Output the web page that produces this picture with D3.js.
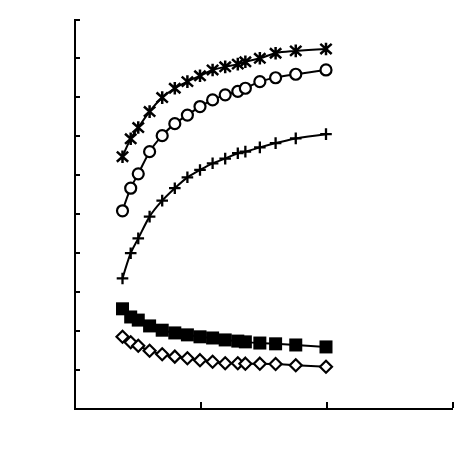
<!DOCTYPE html>
<html>
<head>
<meta charset="utf-8">
<script src="https://cdn.jsdelivr.net/npm/d3@7"></script>
<style>
  html, body { margin: 0; padding: 0; background: #fff; }
  svg { display: block; }
</style>
</head>
<body>
<div id="chart"></div>
<script>
// X positions (shared by all series)
const xValues = [0.385, 0.45, 0.51, 0.6, 0.7, 0.8, 0.9, 1.0, 1.1, 1.2, 1.3, 1.36, 1.475, 1.6, 1.76, 2.0];

// Series values
const asteriskSeries = [6.46, 6.92, 7.21, 7.62, 7.98, 8.22, 8.39, 8.54, 8.69, 8.77, 8.84, 8.90, 8.99, 9.12, 9.18, 9.23];
const circleSeries   = [5.07, 5.65, 6.02, 6.59, 7.00, 7.31, 7.53, 7.75, 7.92, 8.05, 8.14, 8.22, 8.39, 8.49, 8.58, 8.69];
const plusSeries     = [3.33, 3.98, 4.36, 4.92, 5.33, 5.65, 5.93, 6.12, 6.29, 6.41, 6.55, 6.59, 6.70, 6.81, 6.93, 7.04];
const squareSeries   = [2.55, 2.34, 2.26, 2.11, 2.00, 1.93, 1.88, 1.83, 1.80, 1.75, 1.72, 1.70, 1.67, 1.65, 1.62, 1.57];
const diamondSeries  = [1.83, 1.69, 1.60, 1.47, 1.38, 1.32, 1.28, 1.23, 1.19, 1.15, 1.15, 1.14, 1.14, 1.13, 1.10, 1.06];

// Axis ticks (no labels in the reference)
const xTicks = [1, 2, 3];
const yTicks = [0, 1, 2, 3, 4, 5, 6, 7, 8, 9, 10];

const W = 474, H = 462;
const svg = d3.select("#chart").append("svg").attr("width", W).attr("height", H);

const x = d3.scaleLinear().domain([0, 3]).range([74, 452]);
const y = d3.scaleLinear().domain([0, 10]).range([408, 19]);

// Axes
const yAxis = d3.axisRight(y).tickValues(yTicks).tickSize(6).tickSizeOuter(0).tickFormat("");
const gy = svg.append("g").attr("transform", `translate(${x(0)},0)`).call(yAxis);
const xAxis = d3.axisTop(x).tickValues(xTicks).tickSize(6).tickSizeOuter(0).tickFormat("");
const gx = svg.append("g").attr("transform", `translate(0,${y(0)})`).call(xAxis);
[gx, gy].forEach(g => {
  g.selectAll("path, line").attr("stroke", "#000").attr("stroke-width", 2).attr("shape-rendering", "crispEdges");
});

const series = [
  { name: "asterisk", values: asteriskSeries },
  { name: "circle", values: circleSeries },
  { name: "plus", values: plusSeries },
  { name: "square", values: squareSeries },
  { name: "diamond", values: diamondSeries }
];

const line = d3.line()
  .x(d => x(d[0]))
  .y(d => y(d[1]))
  .curve(d3.curveMonotoneX);

// Lines
series.forEach(s => {
  const pts = xValues.map((xv, i) => [xv, s.values[i]]);
  svg.append("path")
    .datum(pts)
    .attr("d", line)
    .attr("fill", "none")
    .attr("stroke", "#000")
    .attr("stroke-width", 2);
});

// Markers
series.forEach(s => {
  const pts = xValues.map((xv, i) => [xv, s.values[i]]);
  const g = svg.append("g");
  pts.forEach(p => {
    const cx = x(p[0]), cy = y(p[1]);
    const m = g.append("g").attr("transform", `translate(${cx},${cy})`);
    if (s.name === "asterisk") {
      const r = 6.3;
      m.append("path")
        .attr("d", `M0,${-r}V${r}M${-r*0.9},${-r*0.8}L${r*0.9},${r*0.8}M${-r*0.9},${r*0.8}L${r*0.9},${-r*0.8}`)
        .attr("stroke", "#000").attr("stroke-width", 2.5).attr("fill", "none");
    } else if (s.name === "circle") {
      m.append("circle").attr("r", 5.5)
        .attr("fill", "#fff").attr("stroke", "#000").attr("stroke-width", 2.2);
    } else if (s.name === "plus") {
      const r = 5.8;
      m.append("path")
        .attr("d", `M0,${-r}V${r}M${-r},0H${r}`)
        .attr("stroke", "#000").attr("stroke-width", 2.3).attr("fill", "none");
    } else if (s.name === "square") {
      m.append("rect").attr("x", -6.5).attr("y", -6.5).attr("width", 13).attr("height", 13)
        .attr("fill", "#000");
    } else if (s.name === "diamond") {
      const r = 6;
      m.append("path")
        .attr("d", `M0,${-r}L${r},0L0,${r}L${-r},0Z`)
        .attr("fill", "#fff").attr("stroke", "#000").attr("stroke-width", 2.2);
    }
  });
});
</script>
</body>
</html>
